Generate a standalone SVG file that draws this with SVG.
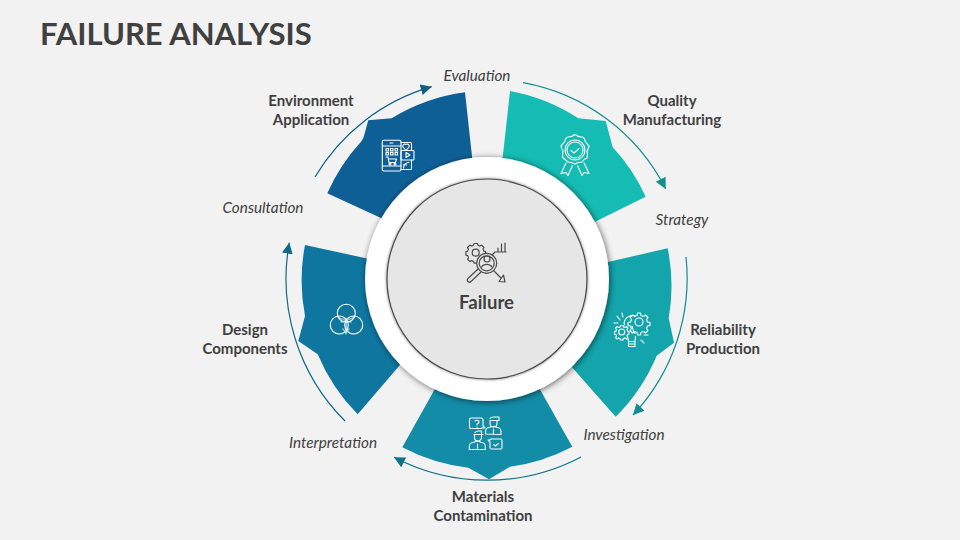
<svg xmlns="http://www.w3.org/2000/svg" width="960" height="540" viewBox="0 0 960 540">
<style>
text{font-family:Lato,"Liberation Sans",sans-serif;fill:#404040}
.title{font-size:31px;font-weight:700}
.b{font-size:15px;font-weight:700;text-anchor:middle}
.i{font-size:15.300px;font-style:italic;text-anchor:middle}
.ic{fill:none;stroke:#fff;stroke-width:1.1;stroke-linejoin:round;stroke-linecap:round}
.cc{fill:none;stroke:#4a4a4a;stroke-width:1.2;stroke-linejoin:round;stroke-linecap:round}
.arr{fill:none;stroke-width:1.2}
</style>
<defs>
<filter id="sh" x="-15%" y="-15%" width="130%" height="130%"><feGaussianBlur in="SourceAlpha" stdDeviation="3"/><feOffset dx="1" dy="1"/><feComponentTransfer><feFuncA type="linear" slope="0.6"/></feComponentTransfer><feMerge><feMergeNode/><feMergeNode in="SourceGraphic"/></feMerge></filter>
<filter id="sh2" x="-10%" y="-10%" width="120%" height="120%"><feGaussianBlur in="SourceAlpha" stdDeviation="1.500"/><feOffset dx="0" dy="0"/><feComponentTransfer><feFuncA type="linear" slope="0.5"/></feComponentTransfer><feMerge><feMergeNode/><feMergeNode in="SourceGraphic"/></feMerge></filter>
<marker id="m1" markerUnits="userSpaceOnUse" markerWidth="13" markerHeight="12" refX="11" refY="5.500" orient="auto"><path d="M0 0L11 5.500L0 11z" fill="#0F5F85"/></marker>
<marker id="m2" markerUnits="userSpaceOnUse" markerWidth="13" markerHeight="12" refX="11" refY="5.500" orient="auto"><path d="M0 0L11 5.500L0 11z" fill="#12908E"/></marker>
<marker id="m3" markerUnits="userSpaceOnUse" markerWidth="13" markerHeight="12" refX="11" refY="5.500" orient="auto"><path d="M0 0L11 5.500L0 11z" fill="#128C92"/></marker>
<marker id="m4" markerUnits="userSpaceOnUse" markerWidth="13" markerHeight="12" refX="11" refY="5.500" orient="auto"><path d="M0 0L11 5.500L0 11z" fill="#0F7388"/></marker>
<marker id="m5" markerUnits="userSpaceOnUse" markerWidth="13" markerHeight="12" refX="11" refY="5.500" orient="auto"><path d="M0 0L11 5.500L0 11z" fill="#0F6A8C"/></marker>
</defs>
<rect width="960" height="540" fill="#F2F2F2"/>
<text class="title" x="40" y="45">FAILURE ANALYSIS</text>

<g id="connectors">
<path class="arr" stroke="#0F5F85" marker-end="url(#m1)" d="M315 177A200 200 0 0 1 431.700 86.700"/>
<path class="arr" stroke="#12908E" marker-end="url(#m2)" d="M523 82.700A200 200 0 0 1 665.700 189"/>
<path class="arr" stroke="#128C92" marker-end="url(#m3)" d="M686 257A200 200 0 0 1 633 415"/>
<path class="arr" stroke="#0F7388" marker-end="url(#m4)" d="M581 457A201 201 0 0 1 394 457.300"/>
<path class="arr" stroke="#0F6A8C" marker-end="url(#m5)" d="M345 421A201 201 0 0 1 289.300 242.700"/>
</g>

<g id="seg-environment">
<path fill="#0F5F97" d="M465 92.300L476.800 200L420 236L327.300 193.300A187 187 0 0 1 361 141.700L363.300 138.300L368.300 120.300L391.700 118.300A187 187 0 0 1 465 92.300z"/>
<g class="ic">
<rect x="382.300" y="140.300" width="18.700" height="30.700" rx="1.500"/>
<path d="M382.300 146H401M382.300 166H401M390 143H393"/>
<path d="M386 148.500h2.500v2.500h-2.500zM390.500 148.500h2.500v2.500h-2.500zM395 148.500h2.500v2.500h-2.500zM386 152.500h2.500v2.500h-2.500zM390.500 152.500h2.500v2.500h-2.500zM395 152.500h2.500v2.500h-2.500z"/>
<path d="M386 157h2l1 5.500h6.500l1-3.500h-8"/><circle cx="390" cy="164" r="1"/><circle cx="395" cy="164" r="1"/>
<path d="M401 142.500h9.500a1 1 0 0 1 1 1V150M411.500 160V168.500a1 1 0 0 1-1 1H401"/>
<path d="M406 150.500l-3-3.500a2 2 0 0 1 3-2.500a2 2 0 0 1 3 2.500z"/>
<rect x="401" y="150.500" width="13" height="9.500" rx="1"/><path d="M406 152.500v5l4-2.500z"/>
<path d="M403.500 168a5.500 5.500 0 0 1 5.500-5.500M403.500 165a2.500 2.500 0 0 1 3 0"/>
</g>
</g>

<g id="seg-quality">
<path fill="#14BCB4" d="M510 91A187 187 0 0 1 578.300 118.300L605.700 121L612.700 147.300A187 187 0 0 1 645.700 196.700L550 244L498 200z"/>
<g class="ic">
<path d="M575 134.500q4 3 7 2.500q3 1 3 4q2 3 4 5q-1 4-2 5q1 4 0 7q-3 1-5 4q-4 0-7 2q-4-2-7-2q-3-3-5-4q-1-3 0-7q-2-3-2-5q2-2 4-5q0-3 3-4q3 .5 7-2.500z"/>
<circle cx="575" cy="150" r="10"/><circle cx="575" cy="150" r="8"/>
<path d="M571 150.500l3 2.500l5-4.500"/>
<path d="M566 163l-5 10.500l5-1l2 3l4.500-10M584 163l5 10.500l-5-1l-2 3l-4.500-10"/>
</g>
</g>

<g id="seg-reliability">
<path fill="#13A4AC" d="M667.700 248.300A187 187 0 0 1 668.700 318.300L674 342.700L656.700 355.700A187 187 0 0 1 615.700 416.700L540 331L560 273z"/>
<g class="ic">
<circle cx="639" cy="322" r="4"/>
<path d="M637.500 313h3l.5 2.500l2.500 1l2-1.500l2.500 2.500l-1.500 2l1 2.500l2.500.5v3l-2.500.5l-1 2.500l1.500 2l-2.500 2.500l-2-1.500l-2.500 1l-.5 2.500h-3l-.5-2.500l-2.500-1l-2 1.500l-2.500-2.500l1.500-2l-1-2.500l-2.500-.5v-3l2.500-.5l1-2.500l-1.500-2l2.500-2.500l2 1.500l2.500-1z"/>
<circle cx="621.700" cy="332" r="3"/>
<path d="M620.500 325.500h2.500l.5 1.500l1.500.5l1.500-1l1.500 1.500l-1 1.500l.5 1.500l1.500.5v2.500l-1.500.5l-.5 1.500l1 1.500l-1.500 1.500l-1.500-1l-1.500.5l-.5 1.500h-2.500l-.5-1.500l-1.500-.5l-1.500 1l-1.500-1.500l1-1.500l-.5-1.500l-1.500-.5v-2.500l1.500-.5l.5-1.500l-1-1.500l1.500-1.500l1.500 1l1.500-.5z"/>
<path d="M635 315.500q-8-.5-10.500 5.500q-1 2 0 4M632 326q1 5 3 7.500M628 338.500l.5 3h6.500l.5-5M628.500 341.500v5h6.500v-5M628.500 344h6.500"/>
<path d="M617 316l3 4M614 323h4M622 313l1 4M644 335h4M641 340l3 3"/>
</g>
</g>

<g id="seg-materials">
<path fill="#138CA8" d="M455 353L402.300 447.300A187 187 0 0 0 468.300 467.700L489 479.300L510 466.700A187 187 0 0 0 572.300 446.700L520 354z"/>
<g class="ic">
<path d="M471 418h10a2 2 0 0 1 2 2v6l2 2h-3q-.5 .5-1 .5h-10a1.500 1.500 0 0 1-1.500-1.500v-7.500a1.500 1.500 0 0 1 1.500-1.500z"/>
<path d="M475 421q2-1.500 3.500 0t-1.500 3v1M477 427v.3"/>
<path d="M490 418.500q1-1.500 3.500-1.500h5.500v3.500M490 420.500h9M490 420.500v3a3.500 3.500 0 0 0 7 0v-3"/>
<path d="M485.500 434v-2.500a4 4 0 0 1 4-4l2-1h3.500l2 1a4 4 0 0 1 4 4v3zM493.500 429v5"/>
<path d="M475 432.500q1-1.500 3.500-1.500h3v3.500M474 434.500h9M474.500 434.500v3a3.500 3.500 0 0 0 7 0v-3"/>
<path d="M469.300 449.500v-3a4 4 0 0 1 4-4l2-1h4l2 1a4 4 0 0 1 4 4v3zM477.500 444v5"/>
<path d="M491 439h9.500a1.500 1.500 0 0 1 1.500 1.500v7a1.500 1.500 0 0 1-1.500 1.500h-9a1.500 1.500 0 0 1-1.500-1.500v-5.500l-2-2h2z"/>
<path d="M493.500 444.500l2 1.500l3-2.500"/>
</g>
</g>

<g id="seg-design">
<path fill="#0F76A0" d="M305 245A187 187 0 0 0 305 316L298.300 341L317.700 354.300A187 187 0 0 0 357.700 414.300L430 330L420 270z"/>
<g class="ic">
<circle cx="346.300" cy="313.300" r="9"/><circle cx="339.300" cy="325" r="9"/><circle cx="353.700" cy="325" r="9"/>
<path d="M338 317q4 3.500 8 1.500q4 2 8-1.500M341 322q5 0 5-3.500q0 3.500 5 3.500M346.300 320v13M343 329q3 3 3 5q0-2 3-5" stroke-width="1.600" opacity=".55"/>
</g>
</g>

<g id="hub">
<circle cx="487" cy="279" r="122" fill="#fff" filter="url(#sh)"/>
<circle cx="487" cy="279" r="100" fill="#E6E6E6" stroke="#4a4a4a" stroke-width="1.200" filter="url(#sh2)"/>
<g class="cc">
<circle cx="475.700" cy="252.700" r="3.500"/>
<path d="M474 243.500h3.500l.5 1.800l2 .8l1.600-1l2.400 2.400l-1 1.600l.8 2l1.800.5v3.500l-1.800.5l-.8 2l1 1.600l-2.400 2.400l-1.600-1l-2 .8l-.5 1.800h-3.500l-.5-1.800l-2-.8l-1.600 1l-2.400-2.400l1-1.600l-.8-2l-1.800-.5v-3.500l1.800-.5l.8-2l-1-1.600l2.400-2.400l1.600 1l2-.8z"/>
<circle cx="486.700" cy="263.300" r="10" fill="#E6E6E6"/><circle cx="486.700" cy="263.300" r="7.500"/>
<path d="M481 272l-10 9.500a2 2 0 0 1-3-3l10-9.500"/>
<path d="M481.500 267a6 5 0 0 1 10.500 0M484 259a3 3 0 1 0 6 0a3 3 0 1 0-6 0"/>
<path d="M492 255l3-3h11M498 252v-4M501.500 252v-8M505 252v-9"/>
<path d="M494 271l7 7M499 281.500l6 .5l-1.500-7z"/>
</g>
<text x="486.500" y="308.500" text-anchor="middle" font-size="18.500" font-weight="700">Failure</text>
</g>

<g id="labels">
<text class="b" x="311" y="106">Environment</text><text class="b" x="311" y="125">Application</text>
<text class="b" x="672" y="106">Quality</text><text class="b" x="672" y="125">Manufacturing</text>
<text class="b" x="723" y="335">Reliability</text><text class="b" x="723" y="354">Production</text>
<text class="b" x="483" y="502">Materials</text><text class="b" x="483" y="521">Contamination</text>
<text class="b" x="245" y="335">Design</text><text class="b" x="245" y="354">Components</text>
<text class="i" x="477" y="81">Evaluation</text>
<text class="i" x="682" y="225">Strategy</text>
<text class="i" x="624" y="440">Investigation</text>
<text class="i" x="333" y="448">Interpretation</text>
<text class="i" x="263" y="213">Consultation</text>
</g>
</svg>
